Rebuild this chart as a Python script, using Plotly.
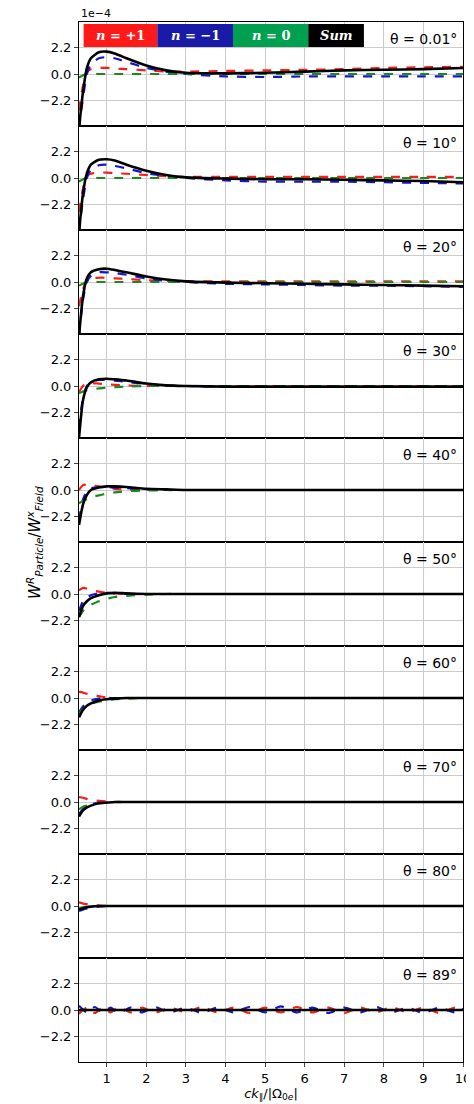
import plotly.graph_objects as go
from plotly.subplots import make_subplots

x = [0.3, 0.4, 0.5, 0.6, 0.8, 1.0, 1.2, 1.5, 2.0, 2.5, 3.0, 4.0, 5.0, 6.0, 7.0, 8.0, 9.0, 10.0]
x89 = [0.3, 0.5, 0.7, 0.9, 1.1, 1.3, 1.6, 1.9, 2.2, 2.6, 3.0, 3.4, 3.8, 4.2, 4.6, 5.0, 5.4, 5.8, 6.2, 6.6, 7.0, 7.4, 7.8, 8.2, 8.6, 9.0, 9.4, 9.8, 10.0]
thetas = ["0.01", "10", "20", "30", "40", "50", "60", "70", "80", "89"]

red = [
    [-3.0, -1.0, 0.2, 0.4, 0.5, 0.5, 0.45, 0.4, 0.3, 0.2, 0.2, 0.25, 0.3, 0.35, 0.4, 0.5, 0.55, 0.6],
    [-2.8, -0.9, 0.2, 0.35, 0.45, 0.45, 0.4, 0.35, 0.25, 0.15, 0.1, 0.1, 0.1, 0.1, 0.1, 0.1, 0.1, 0.1],
    [-2.0, -0.6, 0.1, 0.3, 0.35, 0.35, 0.3, 0.25, 0.15, 0.1, 0.05, 0.05, 0.05, 0.05, 0.05, 0.05, 0.05, 0.05],
    [-0.5, 0.0, 0.2, 0.25, 0.2, 0.15, 0.1, 0.05, 0.0, 0.0, 0.0, 0.0, 0.0, 0.0, 0.0, 0.0, 0.0, 0.0],
    [0.0, 0.4, 0.45, 0.4, 0.3, 0.2, 0.1, 0.05, 0.0, 0.0, 0.0, 0.0, 0.0, 0.0, 0.0, 0.0, 0.0, 0.0],
    [0.3, 0.5, 0.45, 0.35, 0.2, 0.1, 0.05, 0.0, 0.0, 0.0, 0.0, 0.0, 0.0, 0.0, 0.0, 0.0, 0.0, 0.0],
    [0.5, 0.45, 0.35, 0.25, 0.15, 0.05, 0.0, 0.0, 0.0, 0.0, 0.0, 0.0, 0.0, 0.0, 0.0, 0.0, 0.0, 0.0],
    [0.4, 0.35, 0.25, 0.15, 0.1, 0.05, 0.0, 0.0, 0.0, 0.0, 0.0, 0.0, 0.0, 0.0, 0.0, 0.0, 0.0, 0.0],
    [0.3, 0.2, 0.15, 0.1, 0.05, 0.0, 0.0, 0.0, 0.0, 0.0, 0.0, 0.0, 0.0, 0.0, 0.0, 0.0, 0.0, 0.0],
]
blue = [
    [-4.5, -2.0, 0.0, 0.8, 1.3, 1.4, 1.3, 1.0, 0.5, 0.2, 0.0, -0.2, -0.25, -0.2, -0.2, -0.2, -0.2, -0.2],
    [-4.5, -1.8, 0.0, 0.7, 1.05, 1.1, 1.0, 0.8, 0.4, 0.15, 0.0, -0.2, -0.3, -0.3, -0.3, -0.35, -0.4, -0.45],
    [-4.5, -1.5, 0.0, 0.5, 0.8, 0.8, 0.75, 0.6, 0.3, 0.1, 0.0, -0.15, -0.2, -0.25, -0.3, -0.3, -0.35, -0.4],
    [-3.5, -1.0, 0.0, 0.35, 0.5, 0.5, 0.45, 0.35, 0.15, 0.05, 0.0, -0.05, -0.05, -0.05, -0.05, -0.05, -0.05, -0.05],
    [-2.5, -0.8, -0.1, 0.15, 0.25, 0.25, 0.2, 0.15, 0.05, 0.0, 0.0, 0.0, 0.0, 0.0, 0.0, 0.0, 0.0, 0.0],
    [-1.4, -0.6, -0.3, -0.1, 0.05, 0.1, 0.05, 0.0, 0.0, 0.0, 0.0, 0.0, 0.0, 0.0, 0.0, 0.0, 0.0, 0.0],
    [-1.2, -0.7, -0.4, -0.2, -0.05, 0.0, 0.0, 0.0, 0.0, 0.0, 0.0, 0.0, 0.0, 0.0, 0.0, 0.0, 0.0, 0.0],
    [-1.0, -0.6, -0.35, -0.2, -0.05, 0.0, 0.0, 0.0, 0.0, 0.0, 0.0, 0.0, 0.0, 0.0, 0.0, 0.0, 0.0, 0.0],
    [-0.4, -0.3, -0.2, -0.15, -0.05, 0.0, 0.0, 0.0, 0.0, 0.0, 0.0, 0.0, 0.0, 0.0, 0.0, 0.0, 0.0, 0.0],
]
green = [
    [-0.3, -0.1, 0.0, 0.0, 0.0, 0.0, 0.0, 0.0, 0.0, 0.0, 0.0, 0.0, 0.0, 0.0, 0.0, 0.0, 0.0, 0.0],
    [-0.3, -0.1, 0.0, 0.0, 0.0, 0.0, 0.0, 0.0, 0.0, 0.0, 0.0, 0.0, 0.0, 0.0, 0.0, 0.0, 0.0, 0.0],
    [-0.3, -0.15, -0.05, 0.0, 0.0, 0.0, 0.0, 0.0, 0.0, 0.0, 0.0, 0.0, 0.0, 0.0, 0.0, 0.0, 0.0, 0.0],
    [-0.6, -0.45, -0.35, -0.3, -0.2, -0.15, -0.1, -0.05, 0.0, 0.0, 0.0, 0.0, 0.0, 0.0, 0.0, 0.0, 0.0, 0.0],
    [-1.1, -0.9, -0.75, -0.6, -0.45, -0.3, -0.2, -0.1, -0.05, 0.0, 0.0, 0.0, 0.0, 0.0, 0.0, 0.0, 0.0, 0.0],
    [-1.9, -1.4, -1.1, -0.9, -0.6, -0.4, -0.25, -0.15, -0.05, 0.0, 0.0, 0.0, 0.0, 0.0, 0.0, 0.0, 0.0, 0.0],
    [-1.3, -0.9, -0.7, -0.5, -0.3, -0.2, -0.1, -0.05, 0.0, 0.0, 0.0, 0.0, 0.0, 0.0, 0.0, 0.0, 0.0, 0.0],
    [-0.6, -0.4, -0.3, -0.2, -0.1, -0.05, 0.0, 0.0, 0.0, 0.0, 0.0, 0.0, 0.0, 0.0, 0.0, 0.0, 0.0, 0.0],
    [-0.2, -0.1, -0.05, 0.0, 0.0, 0.0, 0.0, 0.0, 0.0, 0.0, 0.0, 0.0, 0.0, 0.0, 0.0, 0.0, 0.0, 0.0],
]
total = [
    [-4.5, -1.5, 0.5, 1.3, 1.8, 1.85, 1.7, 1.3, 0.7, 0.3, 0.1, 0.05, 0.1, 0.2, 0.3, 0.35, 0.4, 0.5],
    [-4.5, -1.3, 0.4, 1.1, 1.5, 1.55, 1.45, 1.1, 0.6, 0.25, 0.05, -0.05, -0.1, -0.1, -0.15, -0.2, -0.25, -0.35],
    [-4.5, -1.2, 0.3, 0.8, 1.05, 1.1, 1.0, 0.8, 0.45, 0.2, 0.05, -0.05, -0.1, -0.15, -0.2, -0.25, -0.3, -0.35],
    [-4.3, -1.2, -0.1, 0.3, 0.55, 0.6, 0.55, 0.45, 0.2, 0.05, 0.0, -0.05, -0.05, -0.05, -0.05, -0.05, -0.05, -0.05],
    [-2.9, -1.2, -0.4, 0.0, 0.2, 0.3, 0.3, 0.25, 0.1, 0.05, 0.0, 0.0, 0.0, 0.0, 0.0, 0.0, 0.0, 0.0],
    [-1.9, -1.0, -0.6, -0.35, -0.1, 0.05, 0.1, 0.05, 0.0, 0.0, 0.0, 0.0, 0.0, 0.0, 0.0, 0.0, 0.0, 0.0],
    [-1.6, -1.0, -0.65, -0.45, -0.2, -0.1, -0.05, 0.0, 0.0, 0.0, 0.0, 0.0, 0.0, 0.0, 0.0, 0.0, 0.0, 0.0],
    [-1.2, -0.7, -0.45, -0.3, -0.1, -0.05, 0.0, 0.0, 0.0, 0.0, 0.0, 0.0, 0.0, 0.0, 0.0, 0.0, 0.0, 0.0],
    [-0.3, -0.2, -0.1, -0.05, 0.0, 0.0, 0.0, 0.0, 0.0, 0.0, 0.0, 0.0, 0.0, 0.0, 0.0, 0.0, 0.0, 0.0],
]
# theta = 89 panel: small oscillating values
red89 = [-0.3, 0.2, -0.25, 0.2, -0.2, 0.25, -0.2, 0.2, -0.25, 0.2, -0.2, 0.25, -0.2, 0.2, -0.25, 0.2, -0.2, 0.25, -0.2, 0.2, -0.25, 0.2, -0.2, 0.25, -0.2, 0.2, -0.25, 0.2, -0.1]
blue89 = [0.35, -0.2, 0.25, -0.2, 0.2, -0.25, 0.2, -0.2, 0.25, -0.2, 0.2, -0.25, 0.2, -0.2, 0.25, -0.2, 0.3, -0.2, 0.2, -0.25, 0.2, -0.2, 0.25, -0.2, 0.2, -0.25, 0.2, -0.2, 0.1]
green89 = [0.0] * 29
total89 = [0.0] * 29

n = len(thetas)
fig = make_subplots(rows=n, cols=1, shared_xaxes=True, vertical_spacing=0)
cols = ["#ff1a1a", "#1515d0", "#1a8a1a", "black"]
for i in range(n):
    if i < 9:
        sets = [(x, red[i]), (x, blue[i]), (x, green[i]), (x, total[i])]
    else:
        sets = [(x89, red89), (x89, blue89), (x89, green89), (x89, total89)]
    for k, (xs, ys) in enumerate(sets):
        solid = k == 3
        fig.add_trace(go.Scatter(x=xs, y=ys, mode="lines",
                                 line=dict(color=cols[k], width=2.6 if solid else 2.2, dash="solid" if solid else "dash",
                                           shape="spline", smoothing=0.6), showlegend=False), row=i + 1, col=1)
    fig.add_annotation(text="θ = " + thetas[i] + "°", xref="x domain", yref="y domain", x=0.99, y=0.93,
                       xanchor="right", yanchor="top", showarrow=False, font=dict(size=14, color="black"), row=i + 1, col=1)

for i in range(n):
    fig.update_yaxes(range=[-4.3, 4.3], tickvals=[-2.2, 0, 2.2], ticktext=["−2.2", "0.0", "2.2"], showgrid=True, gridcolor="#cccccc",
                     showline=True, linecolor="black", mirror=True, ticks="outside", ticklen=4, zeroline=False,
                     tickfont=dict(size=13, color="black"), row=i + 1, col=1)
    fig.update_xaxes(range=[0.3, 10], dtick=1, showgrid=True, gridcolor="#cccccc", showline=True, linecolor="black", mirror=True,
                     ticks="outside", ticklen=4, zeroline=False, tickfont=dict(size=13, color="black"), row=i + 1, col=1)
fig.update_xaxes(title=dict(text="<i>ck</i><sub>∥</sub>/|Ω<sub>0<i>e</i></sub>|", font=dict(size=13, color="black"), standoff=0), row=n, col=1)

labels = [("<b><i>n</i> = +1</b>", "#ff1a1a", 0.012, 0.204), ("<b><i>n</i> = −1</b>", "#1a1aa8", 0.204, 0.401),
          ("<b><i>n</i> = 0</b>", "#00a050", 0.401, 0.597), ("<b><i>Sum</i></b>", "black", 0.597, 0.742)]
for txt, col, x0, x1 in labels:
    fig.add_shape(type="rect", xref="paper", yref="paper", x0=x0, x1=x1, y0=0.976, y1=0.998, fillcolor=col, line_width=0)
    fig.add_annotation(text=txt, xref="paper", yref="paper", x=(x0 + x1) / 2, y=0.987, xanchor="center", yanchor="middle",
                       showarrow=False, font=dict(size=13, color="white", family="DejaVu Serif"))
fig.add_annotation(text="1e−4", xref="paper", yref="paper", x=0.0, y=1.0, xanchor="left", yanchor="bottom", showarrow=False,
                   font=dict(size=11, color="black"))
fig.add_annotation(text="<i>W</i><sup><i>R</i></sup><sub><i>Particle</i></sub>/<i>W</i><sup><i>x</i></sup><sub><i>Field</i></sub>",
                   xref="paper", yref="paper", x=-0.15, y=0.5, textangle=-90, showarrow=False, font=dict(size=15, color="black"))

fig.update_layout(width=474, height=1104, margin=dict(l=71, r=11, t=14, b=50), plot_bgcolor="white", paper_bgcolor="white",
                  font=dict(family="DejaVu Sans", color="black"))
fig.write_html("out.html")
